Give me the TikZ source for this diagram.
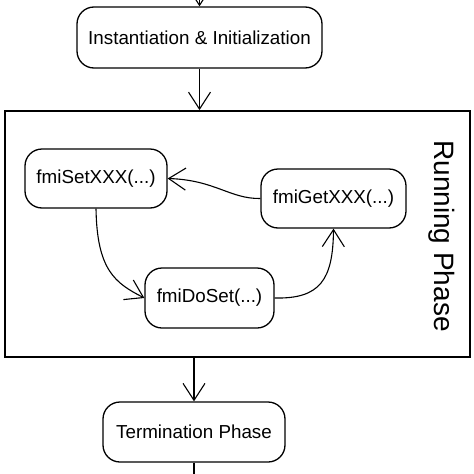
\documentclass[tikz,border=0pt]{standalone}
\usepackage{fontspec}
\setmainfont{Liberation Sans}
\usetikzlibrary{arrows.meta}
\begin{document}
\begin{tikzpicture}[x=1pt,y=-1pt,
  box/.style={draw,line width=1.3pt,rounded corners=17pt,align=center,font=\fontsize{18.8}{22}\selectfont,inner sep=0pt},
  framebox/.style={draw,line width=1.8pt,inner sep=0pt},
  conn/.style={line width=1.1pt,-{Straight Barb[length=17pt,width=22pt,line width=1.1pt]}}]
\useasboundingbox (0,0) rectangle (474,474);
\fill[white] (0,0) rectangle (474,474);
\node[box,minimum width=245pt,minimum height=61pt] (inst) at (199.5,37.5) {Instantiation \& Initialization};
\node[framebox,minimum width=465pt,minimum height=246pt] (frame) at (237.5,234) {};
\node[box,minimum width=142pt,minimum height=59pt] (set) at (96,178.5) {fmiSetXXX(...)};
\node[box,minimum width=145pt,minimum height=59pt] (get) at (333.5,198.5) {fmiGetXXX(...)};
\node[box,minimum width=129pt,minimum height=60pt] (do) at (209.5,298) {fmiDoSet(...)};
\node[box,minimum width=182pt,minimum height=60pt] (term) at (194,432) {Termination Phase};
\node[rotate=-90,font=\fontsize{28}{33}\selectfont] (rp) at (442,236) {Running Phase};
\coordinate (topin) at (199.5,-20);
\coordinate (botout) at (194,490);
\draw[conn] (topin) -- (inst.north);
\draw[conn] (inst.south) -- (inst.south |- frame.north);
\draw[conn] (get.west) .. controls (230,199) and (215,180) .. (set.east);
\draw[conn] (set.south) .. controls (97,270) and (115,283) .. (do.west);
\draw[conn] (do.east) .. controls (320,299) and (333,280) .. (get.south);
\draw[conn] (term.north |- frame.south) -- (term.north);
\draw[line width=1.1pt] (term.south) -- (botout);
\end{tikzpicture}
\end{document}
